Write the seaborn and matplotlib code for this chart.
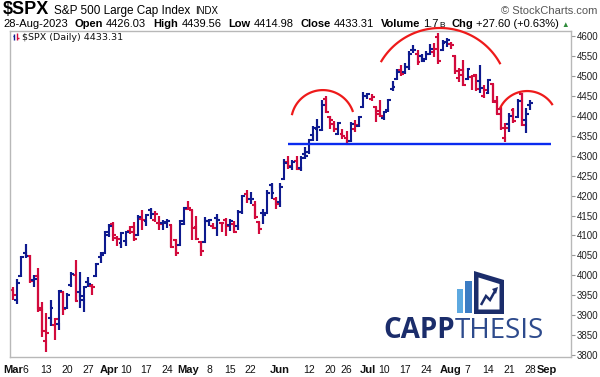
import numpy as np
import pandas as pd
import matplotlib
matplotlib.use('Agg')
import matplotlib.pyplot as plt
from matplotlib.transforms import IdentityTransform
from matplotlib.patches import Polygon, Rectangle
import seaborn as sns

sns.set_style('white')
plt.rcParams['font.family'] = ['Liberation Sans', 'DejaVu Sans']
plt.rcParams['lines.solid_capstyle'] = 'butt'
plt.rcParams['lines.solid_joinstyle'] = 'miter'

# $SPX daily bars, 1-Mar-2023 .. 28-Aug-2023 (one line per month)
opens = [
    3963.34, 3938.68, 3998.02, 4055.15, 4048.26, 3987.55, 3998.66, 3912.77, 3835.12, 3894.01, 3876.74, 3878.93, 3958.69, 3917.47, 3975.89, 4002.04, 3959.21, 3939.21, 3982.93, 3974.13, 3999.53, 4046.74, 4056.18,
    4102.20, 4128.03, 4094.50, 4081.15, 4085.20, 4110.29, 4121.72, 4100.04, 4140.11, 4137.17, 4164.26, 4139.33, 4130.48, 4132.14, 4132.07, 4126.43, 4087.78, 4075.29, 4129.63,
    4166.79, 4164.10, 4122.25, 4082.61, 4084.73, 4136.98, 4124.25, 4143.74, 4132.24, 4138.54, 4126.65, 4127.95, 4122.85, 4157.68, 4204.15, 4190.78, 4176.80, 4132.96, 4155.71, 4156.16, 4226.71, 4190.74,
    4183.03, 4241.01, 4282.99, 4271.34, 4285.47, 4268.69, 4304.88, 4308.32, 4352.61, 4366.29, 4365.33, 4440.95, 4396.11, 4380.01, 4355.40, 4354.17, 4344.84, 4337.36, 4367.48, 4374.94, 4422.44,
    4450.48, 4442.04, 4422.62, 4404.54, 4394.23, 4415.55, 4467.69, 4491.50, 4514.61, 4508.86, 4521.78, 4563.87, 4554.38, 4550.16, 4543.39, 4555.19, 4558.96, 4598.26, 4565.75, 4584.82,
    4578.83, 4550.93, 4494.27, 4513.96, 4491.58, 4498.03, 4501.57, 4487.16, 4450.69, 4458.13, 4478.87, 4433.79, 4416.32, 4344.88, 4380.28, 4415.33, 4396.44, 4455.16, 4389.38, 4426.03,
]
highs = [
    3971.73, 3990.84, 4048.29, 4078.49, 4050.00, 4000.41, 4017.81, 3934.05, 3905.05, 3937.29, 3894.26, 3964.46, 3958.91, 3956.62, 4009.08, 4039.49, 4007.66, 3972.74, 3996.07, 3979.20, 4030.59, 4057.85, 4110.75,
    4127.66, 4133.13, 4099.69, 4107.32, 4109.50, 4124.26, 4134.37, 4150.26, 4163.19, 4151.72, 4169.48, 4162.57, 4148.57, 4138.02, 4142.41, 4126.43, 4089.67, 4138.24, 4170.06,
    4186.92, 4164.10, 4148.30, 4082.61, 4147.02, 4142.30, 4130.35, 4154.28, 4132.80, 4143.74, 4141.25, 4135.54, 4164.67, 4202.20, 4212.91, 4209.22, 4185.68, 4132.96, 4165.74, 4212.87, 4231.10, 4195.44,
    4232.43, 4290.67, 4299.28, 4288.33, 4299.19, 4298.01, 4322.62, 4340.13, 4375.37, 4391.82, 4439.20, 4448.47, 4400.15, 4386.22, 4382.25, 4366.55, 4362.06, 4384.42, 4390.35, 4398.39, 4458.48,
    4456.46, 4454.06, 4422.62, 4440.39, 4412.60, 4441.94, 4488.34, 4517.38, 4527.76, 4532.85, 4562.30, 4578.43, 4564.74, 4555.00, 4563.41, 4580.62, 4582.47, 4607.07, 4590.16, 4594.22,
    4584.62, 4550.93, 4519.49, 4540.34, 4519.84, 4503.31, 4502.44, 4527.37, 4476.23, 4490.33, 4478.87, 4449.95, 4421.17, 4381.82, 4407.55, 4418.59, 4443.18, 4458.30, 4418.46, 4439.56,
]
lows = [
    3939.05, 3928.16, 3995.17, 4044.61, 3980.31, 3969.76, 3908.70, 3846.32, 3808.86, 3873.63, 3838.24, 3864.11, 3901.27, 3916.89, 3971.19, 3936.17, 3919.05, 3909.16, 3970.45, 3951.53, 3999.53, 4032.10, 4056.18,
    4095.31, 4086.87, 4072.56, 4069.84, 4072.55, 4102.61, 4086.94, 4099.40, 4113.20, 4123.18, 4140.36, 4134.49, 4114.57, 4113.86, 4117.77, 4071.38, 4049.35, 4075.29, 4127.18,
    4164.12, 4089.72, 4088.86, 4048.28, 4084.73, 4123.81, 4116.65, 4098.92, 4109.29, 4099.12, 4110.27, 4109.86, 4113.62, 4153.50, 4180.20, 4179.68, 4142.54, 4103.98, 4129.73, 4156.16, 4192.18, 4166.15,
    4171.64, 4241.01, 4266.82, 4263.09, 4263.96, 4261.07, 4291.70, 4304.37, 4337.66, 4337.85, 4362.60, 4407.44, 4367.19, 4360.14, 4351.82, 4341.34, 4328.08, 4335.00, 4360.22, 4371.97, 4422.44,
    4442.29, 4436.61, 4385.05, 4397.40, 4389.92, 4408.46, 4463.23, 4489.36, 4499.56, 4504.90, 4514.59, 4557.48, 4527.56, 4535.79, 4541.29, 4552.42, 4547.58, 4528.56, 4564.01, 4573.14,
    4567.53, 4505.75, 4485.54, 4474.55, 4491.15, 4464.39, 4461.33, 4457.92, 4443.98, 4453.44, 4432.19, 4403.55, 4364.83, 4335.31, 4360.30, 4382.77, 4396.44, 4375.55, 4356.29, 4414.98,
]
closes = [
    3951.39, 3981.35, 4045.64, 4048.42, 3986.37, 3992.01, 3918.32, 3861.59, 3855.76, 3919.29, 3891.93, 3960.28, 3916.64, 3951.57, 4002.87, 3936.97, 3948.72, 3970.99, 3977.53, 3971.27, 4027.81, 4050.83, 4109.31,
    4124.51, 4100.60, 4090.38, 4105.02, 4109.11, 4108.94, 4091.95, 4146.22, 4137.64, 4151.32, 4154.87, 4154.52, 4129.79, 4133.52, 4137.04, 4071.63, 4055.99, 4135.35, 4169.48,
    4167.87, 4119.58, 4090.75, 4061.22, 4136.25, 4138.12, 4119.17, 4137.64, 4130.62, 4124.08, 4136.28, 4109.90, 4158.77, 4198.05, 4191.98, 4192.63, 4145.58, 4115.24, 4151.28, 4205.45, 4205.52, 4179.83,
    4221.02, 4282.37, 4273.79, 4283.85, 4267.52, 4293.93, 4298.86, 4338.93, 4369.01, 4372.59, 4425.84, 4409.59, 4388.71, 4365.69, 4381.89, 4348.33, 4328.82, 4378.41, 4376.86, 4396.44, 4450.38,
    4455.59, 4446.82, 4411.59, 4398.95, 4409.53, 4439.26, 4472.16, 4510.04, 4505.42, 4522.79, 4554.98, 4565.72, 4534.87, 4536.34, 4554.64, 4567.46, 4566.75, 4537.41, 4582.23, 4588.96,
    4576.73, 4513.39, 4501.89, 4478.03, 4518.44, 4499.38, 4467.71, 4468.83, 4464.05, 4489.72, 4437.86, 4404.33, 4370.36, 4369.71, 4399.77, 4387.55, 4436.01, 4376.31, 4405.71, 4433.31,
]
prev_close = 3970.15  # 28-Feb close, colours the first bar

tick_dates = ['2023-03-01', '2023-03-06', '2023-03-13', '2023-03-20', '2023-03-27',
              '2023-04-03', '2023-04-10', '2023-04-17', '2023-04-24',
              '2023-05-01', '2023-05-08', '2023-05-15', '2023-05-22',
              '2023-06-01', '2023-06-12', '2023-06-20', '2023-06-26',
              '2023-07-03', '2023-07-10', '2023-07-17', '2023-07-24',
              '2023-08-01', '2023-08-07', '2023-08-14', '2023-08-21', '2023-08-28', '2023-09-01']
tick_labels = ['Mar', '6', '13', '20', '27', 'Apr', '10', '17', '24', 'May', '8', '15', '22',
               'Jun', '12', '20', '26', 'Jul', '10', '17', '24', 'Aug', '7', '14', '21', '28', 'Sep']

# drawn annotations: support line and the three arcs (centre x, centre y, radius x, radius y, deg from, deg to)
support_level = 4329
support_from, support_to = 66, 129
arcs = [(74.3, 4385, 7.6, 79.4, 168, 18),
        (102.4, 4449, 16.4, 171, 150, 28),
        (123.3, 4387, 7.2, 75, 155, 32)]

BLUE = '#0E1A8E'
RED = '#D20A3C'

# trading days (exchange holidays removed) incl. a few future days on the axis
holidays = pd.to_datetime(['2023-04-07', '2023-05-29', '2023-06-19', '2023-07-04', '2023-09-04'])
days = pd.bdate_range('2023-03-01', '2023-09-08')
days = days[~days.isin(holidays)]
pos = {d: i for i, d in enumerate(days)}
n = len(closes)

prev = [prev_close] + closes[:-1]
direction = ['up' if c >= p else 'down' for c, p in zip(closes, prev)]

# one path per bar: open tick -> low/high line -> close tick
w = 0.7
rows = []
for i in range(n):
    xs = [i - w, i, i, i, i, i + w]
    ys = [opens[i], opens[i], lows[i], highs[i], closes[i], closes[i]]
    for x, y in zip(xs, ys):
        rows.append({'day': i, 'x': x, 'price': y, 'dir': direction[i]})
bars = pd.DataFrame(rows)

fig = plt.figure(figsize=(6, 3.77), dpi=100)
ax = fig.add_axes([10 / 600, 20 / 377, 561 / 600, 326 / 377])
sns.lineplot(data=bars, x='x', y='price', units='day', estimator=None, sort=False,
             hue='dir', palette={'up': BLUE, 'down': RED}, linewidth=1.5,
             legend=False, ax=ax)

ax.hlines(support_level, support_from, support_to, color='#0A2BEF', lw=1.7, zorder=3)
for cx, cy, a, b, t0, t1 in arcs:
    t = np.radians(np.linspace(t0, t1, 80))
    ax.plot(cx + a * np.cos(t), cy + b * np.sin(t), color='#EE1A1A', lw=1.6, clip_on=False, zorder=4)

ax.set_xlim(-0.72, 133.8)
ax.set_ylim(3795.5, 4612.5)
ax.set_xlabel('')
ax.set_ylabel('')

ax.yaxis.tick_right()
ax.set_yticks(np.arange(3800, 4601, 50))
ax.tick_params(axis='y', length=3, width=0.8, color='#999999', labelsize=7,
               pad=1, labelcolor='#222222', direction='out')

ax.set_xticks([pos[pd.Timestamp(d)] for d in tick_dates])
ax.set_xticklabels(tick_labels)
ax.set_xticks(range(0, 134), minor=True)
ax.tick_params(axis='x', which='major', length=0, labelsize=7.5, pad=6, labelcolor='#111111')
ax.tick_params(axis='x', which='minor', length=2, width=0.6, color='#bbbbbb', direction='out')
for lbl in ax.get_xticklabels():
    if lbl.get_text().isalpha():
        lbl.set_fontweight('bold')
        lbl.set_fontsize(8)

for s in ax.spines.values():
    s.set_color('#b8b8b8')
    s.set_linewidth(1)

# header text, placed run by run in pixel coordinates
H = 377
rend = fig.canvas.get_renderer()


def put_runs(x, y, parts, family=None):
    for s, size, weight, color, gap in parts:
        kw = {} if family is None else {'family': family}
        t = fig.text(x, H - y, s, transform=IdentityTransform(), fontsize=size,
                     fontweight=weight, color=color, va='baseline', **kw)
        x = t.get_window_extent(renderer=rend).x1 + gap


put_runs(3, 14, [('$SPX', 13, 'bold', 'black', 5),
                 ('S&P 500 Large Cap Index', 8.5, 'normal', 'black', 5),
                 ('INDX', 7, 'normal', 'black', 0)])
fig.text(597, H - 14, '© StockCharts.com', transform=IdentityTransform(), ha='right',
         va='baseline', fontsize=8, color='#555555')

put_runs(3, 27, [('28-Aug-2023', 8, 'normal', 'black', 7),
                 ('Open', 8, 'bold', 'black', 3), ('4426.03', 8, 'normal', 'black', 7),
                 ('High', 8, 'bold', 'black', 3), ('4439.56', 8, 'normal', 'black', 7),
                 ('Low', 8, 'bold', 'black', 3), ('4414.98', 8, 'normal', 'black', 7),
                 ('Close', 8, 'bold', 'black', 3), ('4433.31', 8, 'normal', 'black', 7),
                 ('Volume', 8, 'bold', 'black', 3), ('1.7', 8, 'normal', 'black', 1),
                 ('B', 6, 'normal', 'black', 6),
                 ('Chg', 8, 'bold', 'black', 3), ('+27.60 (+0.63%)', 8, 'normal', 'black', 3),
                 ('▲', 5.5, 'normal', '#2E8B3A', 0)])

put_runs(22, 40, [('$SPX (Daily) 4433.31', 6.8, 'normal', '#111111', 0)], family='DejaVu Sans')

# overlay in pixel units for the small legend icon and the logo
ov = fig.add_axes([0, 0, 1, 1], zorder=5)
ov.set_xlim(0, 600)
ov.set_ylim(H, 0)
ov.axis('off')
ov.patch.set_alpha(0)

ov.plot([14, 14], [34, 40], color=BLUE, lw=1)
ov.plot([12.5, 14], [36, 36], color=BLUE, lw=1)
ov.plot([17, 17], [33, 40], color=RED, lw=1)
ov.plot([17, 18.5], [38, 38], color=RED, lw=1)

ov.add_patch(Rectangle((457, 289), 6, 24, color='#5DA9E0', lw=0))
ov.add_patch(Rectangle((465, 281), 7, 32, color='#3B7CC4', lw=0))
ov.add_patch(Polygon([(474, 271), (504, 280), (504, 314), (474, 314)], color='#1B2D6B', lw=0))
ov.add_patch(Polygon([(478.5, 277.5), (499.5, 284), (499.5, 309.5), (478.5, 309.5)], color='white', lw=0))
ov.plot([481, 486, 490, 495], [305, 296, 300, 291], color='#1B2D6B', lw=1.8)
ov.add_patch(Polygon([(492, 289), (498, 287), (496, 294)], color='#1B2D6B', lw=0))

put_runs(383, 338, [('CAPP', 20, 'bold', '#1B2D6B', 0),
                    ('THESIS', 20, 'normal', '#2D4A8C', 0)], family='Open Sans')

fig.savefig('out.png', dpi=100)
